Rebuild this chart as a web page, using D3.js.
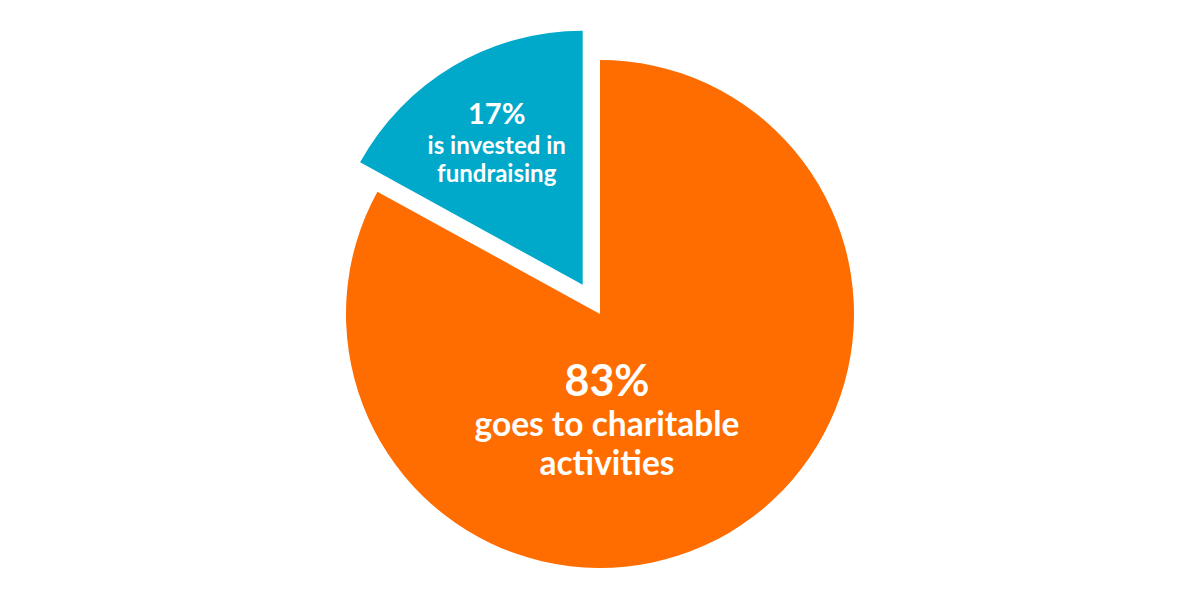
<!DOCTYPE html>
<html>
<head>
<meta charset="utf-8">
<script src="https://cdn.jsdelivr.net/npm/d3@7"></script>
<style>
  body { margin: 0; background: #fff; }
  text { font-family: Lato, "Open Sans", sans-serif; font-weight: 700; fill: #fff; }
</style>
</head>
<body>
<div id="vis"></div>
<script>
var w = 1200, h = 600; // size of the svg

// slices, in drawing order (clockwise from 12 o'clock)
var categories = ["charitable", "fundraising"];
var values = [83, 17];
var percentLabels = ["83%", "17%"];
var textLines = [["goes to charitable", "activities"], ["is invested in", "fundraising"]];
var colors = ["#FF6C00", "#00A8CA"];

var cx = 600, cy = 314, radius = 254;
var explode = 34; // how far the small slice is pulled out

var svg = d3.select("#vis").append("svg")
    .attr("width", w)
    .attr("height", h);

var pie = d3.pie().sort(null).value(function(d){ return d.value; });
var arc = d3.arc().innerRadius(0).outerRadius(radius);

var data = categories.map(function(c, i){
    return {name: c, value: values[i], pct: percentLabels[i], lines: textLines[i], color: colors[i]};
});
var arcs = pie(data);

var g = svg.append("g").attr("transform", "translate(" + cx + "," + cy + ")");

// offset of each slice along its middle angle (only the small one is exploded)
function offset(d){
    if (d.data.name != "fundraising") return [0, 0];
    var a = (d.startAngle + d.endAngle) / 2;
    return [Math.sin(a) * explode, -Math.cos(a) * explode];
}

var slice = g.selectAll("g.slice")
    .data(arcs)
    .enter()
    .append("g")
    .attr("class", "slice")
    .attr("transform", function(d){
        var o = offset(d);
        return "translate(" + o[0] + "," + o[1] + ")";
    });

slice.append("path")
    .attr("d", arc)
    .attr("fill", function(d){ return d.data.color; });

// label placement relative to the slice tip, tuned by eye
var labelPos = {
    charitable:  {x: 7,   y: 82,   big: 43, small: 33.5, gap1: 40, gap2: 39},
    fundraising: {x: -86, y: -161, big: 29, small: 24,   gap1: 30, gap2: 28}
};

slice.each(function(d){
    var p = labelPos[d.data.name];
    var t = d3.select(this).append("text")
        .attr("text-anchor", "middle")
        .attr("transform", "translate(" + p.x + "," + p.y + ")");
    t.append("tspan")
        .attr("x", 0).attr("y", 0)
        .style("font-size", p.big + "px")
        .text(d.data.pct);
    t.append("tspan")
        .attr("x", 0).attr("y", p.gap1)
        .style("font-size", p.small + "px")
        .text(d.data.lines[0]);
    t.append("tspan")
        .attr("x", 0).attr("y", p.gap1 + p.gap2)
        .style("font-size", p.small + "px")
        .text(d.data.lines[1]);
});
</script>
</body>
</html>
